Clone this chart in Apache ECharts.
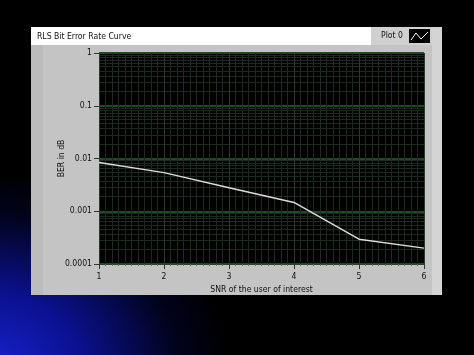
<!DOCTYPE html>
<html><head><meta charset="utf-8">
<script src="https://cdn.jsdelivr.net/npm/echarts@6/dist/echarts.min.js"></script>
<style>
html,body{margin:0;padding:0;width:474px;height:355px;overflow:hidden;
background: radial-gradient(ellipse 240px 200px at -10px 370px, #1822d0 0%, #0b1190 38%, #02031c 78%, #000 100%);}
#c{width:474px;height:355px;}
</style></head><body><div id="c"></div>
<script>
const snr = [1, 2, 3, 4, 5, 6];
const ber = [0.0084, 0.0054, 0.0028, 0.00147, 0.000295, 0.0002];
const yTickLabels = ['0.0001', '0.001', '0.01', '0.1', '1'];
const xTickLabels = ['1', '2', '3', '4', '5', '6'];
const titleText = 'RLS Bit Error Rate Curve';
const legendText = 'Plot 0';

const chart = echarts.init(document.getElementById('c'), null, {renderer: 'canvas'});
const font = '"DejaVu Sans Condensed", "Liberation Sans", sans-serif';
const fs = 8.6;
chart.setOption({
  backgroundColor: 'transparent',
  animation: false,
  graphic: [
    {type: 'rect', shape: {x: 31, y: 27, width: 411, height: 268}, style: {fill: '#c4c4c4'}, z: -10},
    {type: 'rect', shape: {x: 31, y: 45, width: 12, height: 250}, style: {fill: '#bcbcbc'}, z: -9},
    {type: 'rect', shape: {x: 432, y: 27, width: 10, height: 268}, style: {fill: '#d4d4d4'}, z: -9},
    {type: 'rect', shape: {x: 31, y: 27, width: 401, height: 18}, style: {fill: '#ffffff'}, z: -9},
    {type: 'rect', shape: {x: 371, y: 27, width: 61, height: 18}, style: {fill: '#d0d0d0'}, z: -8},
    {type: 'rect', shape: {x: 409, y: 29, width: 21, height: 14}, style: {fill: '#000000'}, z: -7},
    {type: 'polyline', shape: {points: [[411, 40], [416, 33], [421, 39], [428, 32]]}, style: {stroke: '#ffffff', lineWidth: 1, fill: null}, z: -6},
    {type: 'text', style: {text: titleText, x: 37, y: 37, fill: '#111', font: fs + 'px ' + font, textVerticalAlign: 'middle'}},
    {type: 'text', style: {text: legendText, x: 381, y: 36, fill: '#111', font: fs + 'px ' + font, textVerticalAlign: 'middle'}}
  ],
  grid: {left: 99, right: 50, top: 53, bottom: 91, show: true, backgroundColor: '#000000', borderWidth: 0},
  xAxis: {
    type: 'value', min: 1, max: 6, interval: 1,
    name: 'SNR of the user of interest', nameLocation: 'middle', nameGap: 21, nameMoveOverlap: false,
    nameTextStyle: {color: '#111', fontFamily: font, fontSize: fs},
    axisLine: {show: false},
    axisTick: {show: true, length: 5, lineStyle: {color: '#333'}},
    minorTick: {show: true, splitNumber: 10, length: 2, lineStyle: {color: '#666'}},
    axisLabel: {color: '#111', fontFamily: font, fontSize: fs, margin: 8,
      formatter: v => xTickLabels[Math.round(v) - 1]},
    splitLine: {show: true, lineStyle: {color: '#243d2b', width: 1}},
    minorSplitLine: {show: true, lineStyle: {color: '#1c291f', width: 1}}
  },
  yAxis: {
    type: 'log', logBase: 10, min: 0.0001, max: 1,
    name: 'BER in dB', nameLocation: 'middle', nameGap: 33, nameMoveOverlap: false,
    nameTextStyle: {color: '#111', fontFamily: font, fontSize: fs},
    axisLine: {show: false},
    axisTick: {show: true, length: 5, lineStyle: {color: '#333'}},
    minorTick: {show: false, splitNumber: 10},
    axisLabel: {color: '#111', fontFamily: font, fontSize: fs, margin: 7,
      formatter: v => yTickLabels[Math.round(Math.log10(v)) + 4]},
    splitLine: {show: true, lineStyle: {color: '#1f4a24', width: 2}},
    minorSplitLine: {show: true, lineStyle: {color: '#1c291f', width: 1}}
  },
  series: [{
    type: 'line', data: snr.map((x, i) => [x, ber[i]]),
    symbol: 'none', lineStyle: {color: '#dcdcdc', width: 1.5}
  }]
});
</script></body></html>
